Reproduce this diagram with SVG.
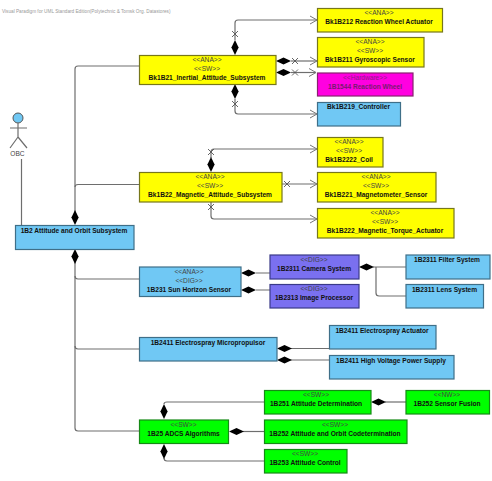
<svg xmlns="http://www.w3.org/2000/svg" width="492" height="481" viewBox="0 0 492 481">
<style>
text{font-family:"Liberation Sans",Arial,sans-serif;font-size:6.6px;text-anchor:middle;fill:#111}
.b{font-weight:bold}
.s{fill:#444}
.y{fill:#ffff00;stroke:#77771a}
.c{fill:#70c8f4;stroke:#3f6f88}
.p{fill:#7a70f0;stroke:#3a3a88}
.g{fill:#00ff00;stroke:#168a16}
.m{fill:#ff00e0;stroke:#88226e}
rect{stroke-width:1.200}
.l{fill:none;stroke:#6e6e6e;stroke-width:1.200}
.x{fill:none;stroke:#555;stroke-width:.9}
</style>
<defs>
<marker id="o" markerUnits="userSpaceOnUse" markerWidth="9" markerHeight="10" refX="8" refY="5" orient="auto"><path d="M1 1L8 5L1 9" fill="none" stroke="#777" stroke-width="1"/></marker>
<path id="dh" d="M0 0L7.500 -3.600L15 0L7.500 3.600Z"/>
<path id="dv" d="M0 0L3.600 -7.500L0 -15L-3.600 -7.500Z"/>
<path id="cr" d="M-3 -3L3 3M-3 3L3 -3"/>
</defs>
<rect width="492" height="481" fill="#fff" style="stroke:none"/>
<text x="2" y="13" style="text-anchor:start;font-size:4.700px;fill:#999">Visual Paradigm for UML Standard Edition(Polytechnic &amp; Tomsk Org. Datastores)</text>
<g id="connectors">
<path class="l" d="M21.500 159V225"/>
<path class="l" d="M75 212V69Q75 66 78 66H139.500"/>
<path class="l" d="M75 187Q75 184.500 78 184.500H139.500"/>
<path class="l" d="M75 262V428Q75 431 78 431H139"/>
<path class="l" d="M75 276Q75 279 78 279H139"/>
<path class="l" d="M75 346Q75 349 78 349H139"/>
<path class="l" d="M235 40V23Q235 20 238 20H317" marker-end="url(#o)"/>
<path class="l" d="M235 99V111Q235 114 238 114H317" marker-end="url(#o)"/>
<path class="l" d="M291 61H317" marker-end="url(#o)"/>
<path class="l" d="M291 72.500H316" marker-end="url(#o)"/>
<path class="l" d="M211 158V152Q211 149 214 149H317" marker-end="url(#o)"/>
<path class="l" d="M211 202V216Q211 219 214 219H317" marker-end="url(#o)"/>
<path class="l" d="M282 184H317" marker-end="url(#o)"/>
<path class="l" d="M256 273H270M256 290H270"/>
<path class="l" d="M373 267H406M376 267V293Q376 296 379 296H406"/>
<path class="l" d="M290 348.500H329M290 360H329"/>
<path class="l" d="M164 404Q164 402 167 402H264"/>
<path class="l" d="M164 458Q164 461 167 461H264"/>
<path class="l" d="M243 431.500H264"/>
<path class="l" d="M385 402H406"/>
<use href="#dv" x="75" y="225"/>
<use href="#dv" x="75" y="264"/>
<use href="#dv" x="235" y="55"/>
<use href="#dv" x="235" y="99"/>
<use href="#dh" x="276" y="61"/>
<use href="#dh" x="276" y="72.500"/>
<use href="#dv" x="211" y="172"/>
<use href="#dh" x="241" y="273"/>
<use href="#dh" x="241" y="290"/>
<use href="#dh" x="359" y="267"/>
<use href="#dh" x="277" y="348.500"/>
<use href="#dh" x="277" y="360"/>
<use href="#dv" x="164" y="419"/>
<use href="#dv" x="164" y="459"/>
<use href="#dh" x="229" y="431.500"/>
<use href="#dh" x="371" y="402"/>
<g class="x">
<use href="#cr" x="235" y="34"/>
<use href="#cr" x="235" y="104"/>
<use href="#cr" x="295" y="61"/>
<use href="#cr" x="295" y="72.500"/>
<use href="#cr" x="211" y="152"/>
<use href="#cr" x="211" y="207"/>
<use href="#cr" x="287" y="184"/>
</g>
</g>
<g id="actor-OBC">
<circle cx="18" cy="118" r="5" fill="#70c8f4" stroke="#555"/>
<path class="l" d="M18 123V137M10 128H27M18 137L10 148M18 137L27 148"/>
<text x="17.500" y="156" style="fill:#444">OBC</text>
</g>
<g id="n-1B2"><rect class="c" x="15.500" y="225.500" width="118.500" height="24"/><text class="b" x="74" y="232.500">1B2 Attitude and Orbit Subsystem</text></g>
<g id="n-Bk1B21"><rect class="y" x="139.500" y="55.500" width="136.500" height="29"/><text class="s" x="207" y="61.500">&lt;&lt;ANA&gt;&gt;</text><text class="s" x="207" y="70.500">&lt;&lt;SW&gt;&gt;</text><text class="b" x="207" y="79.500">Bk1B21_Inertial_Attitude_Subsystem</text></g>
<g id="n-Bk1B212"><rect class="y" x="317.500" y="8.500" width="125" height="23.500"/><text class="s" x="379" y="15">&lt;&lt;ANA&gt;&gt;</text><text class="b" x="379" y="24">Bk1B212 Reaction Wheel Actuator</text></g>
<g id="n-Bk1B211"><rect class="y" x="317.500" y="37.500" width="106.500" height="29.500"/><text class="s" x="370" y="44">&lt;&lt;ANA&gt;&gt;</text><text class="s" x="370" y="53">&lt;&lt;SW&gt;&gt;</text><text class="b" x="370" y="62">Bk1B211 Gyroscopic Sensor</text></g>
<g id="n-1B1544"><rect class="m" x="317.500" y="73" width="95.500" height="23"/><text x="365" y="79.500" style="fill:#8a1f80">&lt;&lt;Hardware&gt;&gt;</text><text class="b" x="365" y="88.500" style="fill:#7a1a70">1B1544 Reaction Wheel</text></g>
<g id="n-Bk1B219"><rect class="c" x="317.500" y="102.500" width="83" height="23.500"/><text class="b" x="358.500" y="109">Bk1B219_Controller</text></g>
<g id="n-Bk1B22"><rect class="y" x="139.500" y="172.500" width="142.500" height="29.500"/><text class="s" x="210" y="179">&lt;&lt;ANA&gt;&gt;</text><text class="s" x="210" y="188">&lt;&lt;SW&gt;&gt;</text><text class="b" x="210" y="197">Bk1B22_Magnetic_Attitude_Subsystem</text></g>
<g id="n-Bk1B2222"><rect class="y" x="317.500" y="137.500" width="65.500" height="29.500"/><text class="s" x="349" y="144">&lt;&lt;ANA&gt;&gt;</text><text class="s" x="349" y="153">&lt;&lt;SW&gt;&gt;</text><text class="b" x="349" y="162">Bk1B2222_Coil</text></g>
<g id="n-Bk1B221"><rect class="y" x="317.500" y="172.500" width="118.500" height="29.500"/><text class="s" x="376" y="179">&lt;&lt;ANA&gt;&gt;</text><text class="s" x="376" y="188">&lt;&lt;SW&gt;&gt;</text><text class="b" x="376" y="197">Bk1B221_Magnetometer_Sensor</text></g>
<g id="n-Bk1B222"><rect class="y" x="317.500" y="208.500" width="136.500" height="29.500"/><text class="s" x="385" y="215">&lt;&lt;ANA&gt;&gt;</text><text class="s" x="385" y="224">&lt;&lt;SW&gt;&gt;</text><text class="b" x="385" y="233">Bk1B222_Magnetic_Torque_Actuator</text></g>
<g id="n-1B231"><rect class="c" x="139.500" y="267" width="101.500" height="29.500"/><text class="s" x="189" y="273.500">&lt;&lt;ANA&gt;&gt;</text><text class="s" x="189" y="282.500">&lt;&lt;DIG&gt;&gt;</text><text class="b" x="189" y="291.500">1B231 Sun Horizon Sensor</text></g>
<g id="n-1B2311-cam"><rect class="p" x="270" y="255" width="89" height="24"/><text class="s" x="314" y="261.500">&lt;&lt;DIG&gt;&gt;</text><text class="b" x="314" y="270.500">1B2311 Camera System</text></g>
<g id="n-1B2313"><rect class="p" x="270" y="284.500" width="89" height="23.500"/><text class="s" x="314" y="291">&lt;&lt;DIG&gt;&gt;</text><text class="b" x="314" y="300">1B2313 Image Processor</text></g>
<g id="n-1B2311-fil"><rect class="c" x="406" y="255" width="84" height="24"/><text class="b" x="447" y="262">1B2311 Filter System</text></g>
<g id="n-1B2311-len"><rect class="c" x="406" y="284.500" width="77.500" height="23.500"/><text class="b" x="444.500" y="291.500">1B2311 Lens System</text></g>
<g id="n-1B2411"><rect class="c" x="139.500" y="337.500" width="137.500" height="23.500"/><text class="b" x="208" y="344.500">1B2411 Electrospray Micropropulsor</text></g>
<g id="n-1B2411-act"><rect class="c" x="329.500" y="325.500" width="106.500" height="23.500"/><text class="b" x="382" y="332.500">1B2411 Electrospray Actuator</text></g>
<g id="n-1B2411-hv"><rect class="c" x="329.500" y="355.500" width="124.500" height="23.500"/><text class="b" x="391" y="362.500">1B2411 High Voltage Power Supply</text></g>
<g id="n-1B25"><rect class="g" x="139.500" y="420" width="89" height="23.500"/><text class="s" x="183.500" y="426.500">&lt;&lt;SW&gt;&gt;</text><text class="b" x="183.500" y="435.500">1B25 ADCS Algorithms</text></g>
<g id="n-1B251"><rect class="g" x="264.500" y="390.500" width="106.500" height="23.500"/><text class="s" x="316" y="397">&lt;&lt;SW&gt;&gt;</text><text class="b" x="316" y="406">1B251 Attitude Determination</text></g>
<g id="n-1B252-fus"><rect class="g" x="406" y="390.500" width="83.500" height="23.500"/><text class="s" x="447" y="397">&lt;&lt;NW&gt;&gt;</text><text class="b" x="447" y="406">1B252 Sensor Fusion</text></g>
<g id="n-1B252"><rect class="g" x="264.500" y="420" width="142.500" height="23.500"/><text class="s" x="335" y="426.500">&lt;&lt;SW&gt;&gt;</text><text class="b" x="335" y="435.500">1B252 Attitude and Orbit Codetermination</text></g>
<g id="n-1B253"><rect class="g" x="264.500" y="449.500" width="82.500" height="23.500"/><text class="s" x="305" y="456">&lt;&lt;SW&gt;&gt;</text><text class="b" x="305" y="465">1B253 Attitude Control</text></g>
</svg>
